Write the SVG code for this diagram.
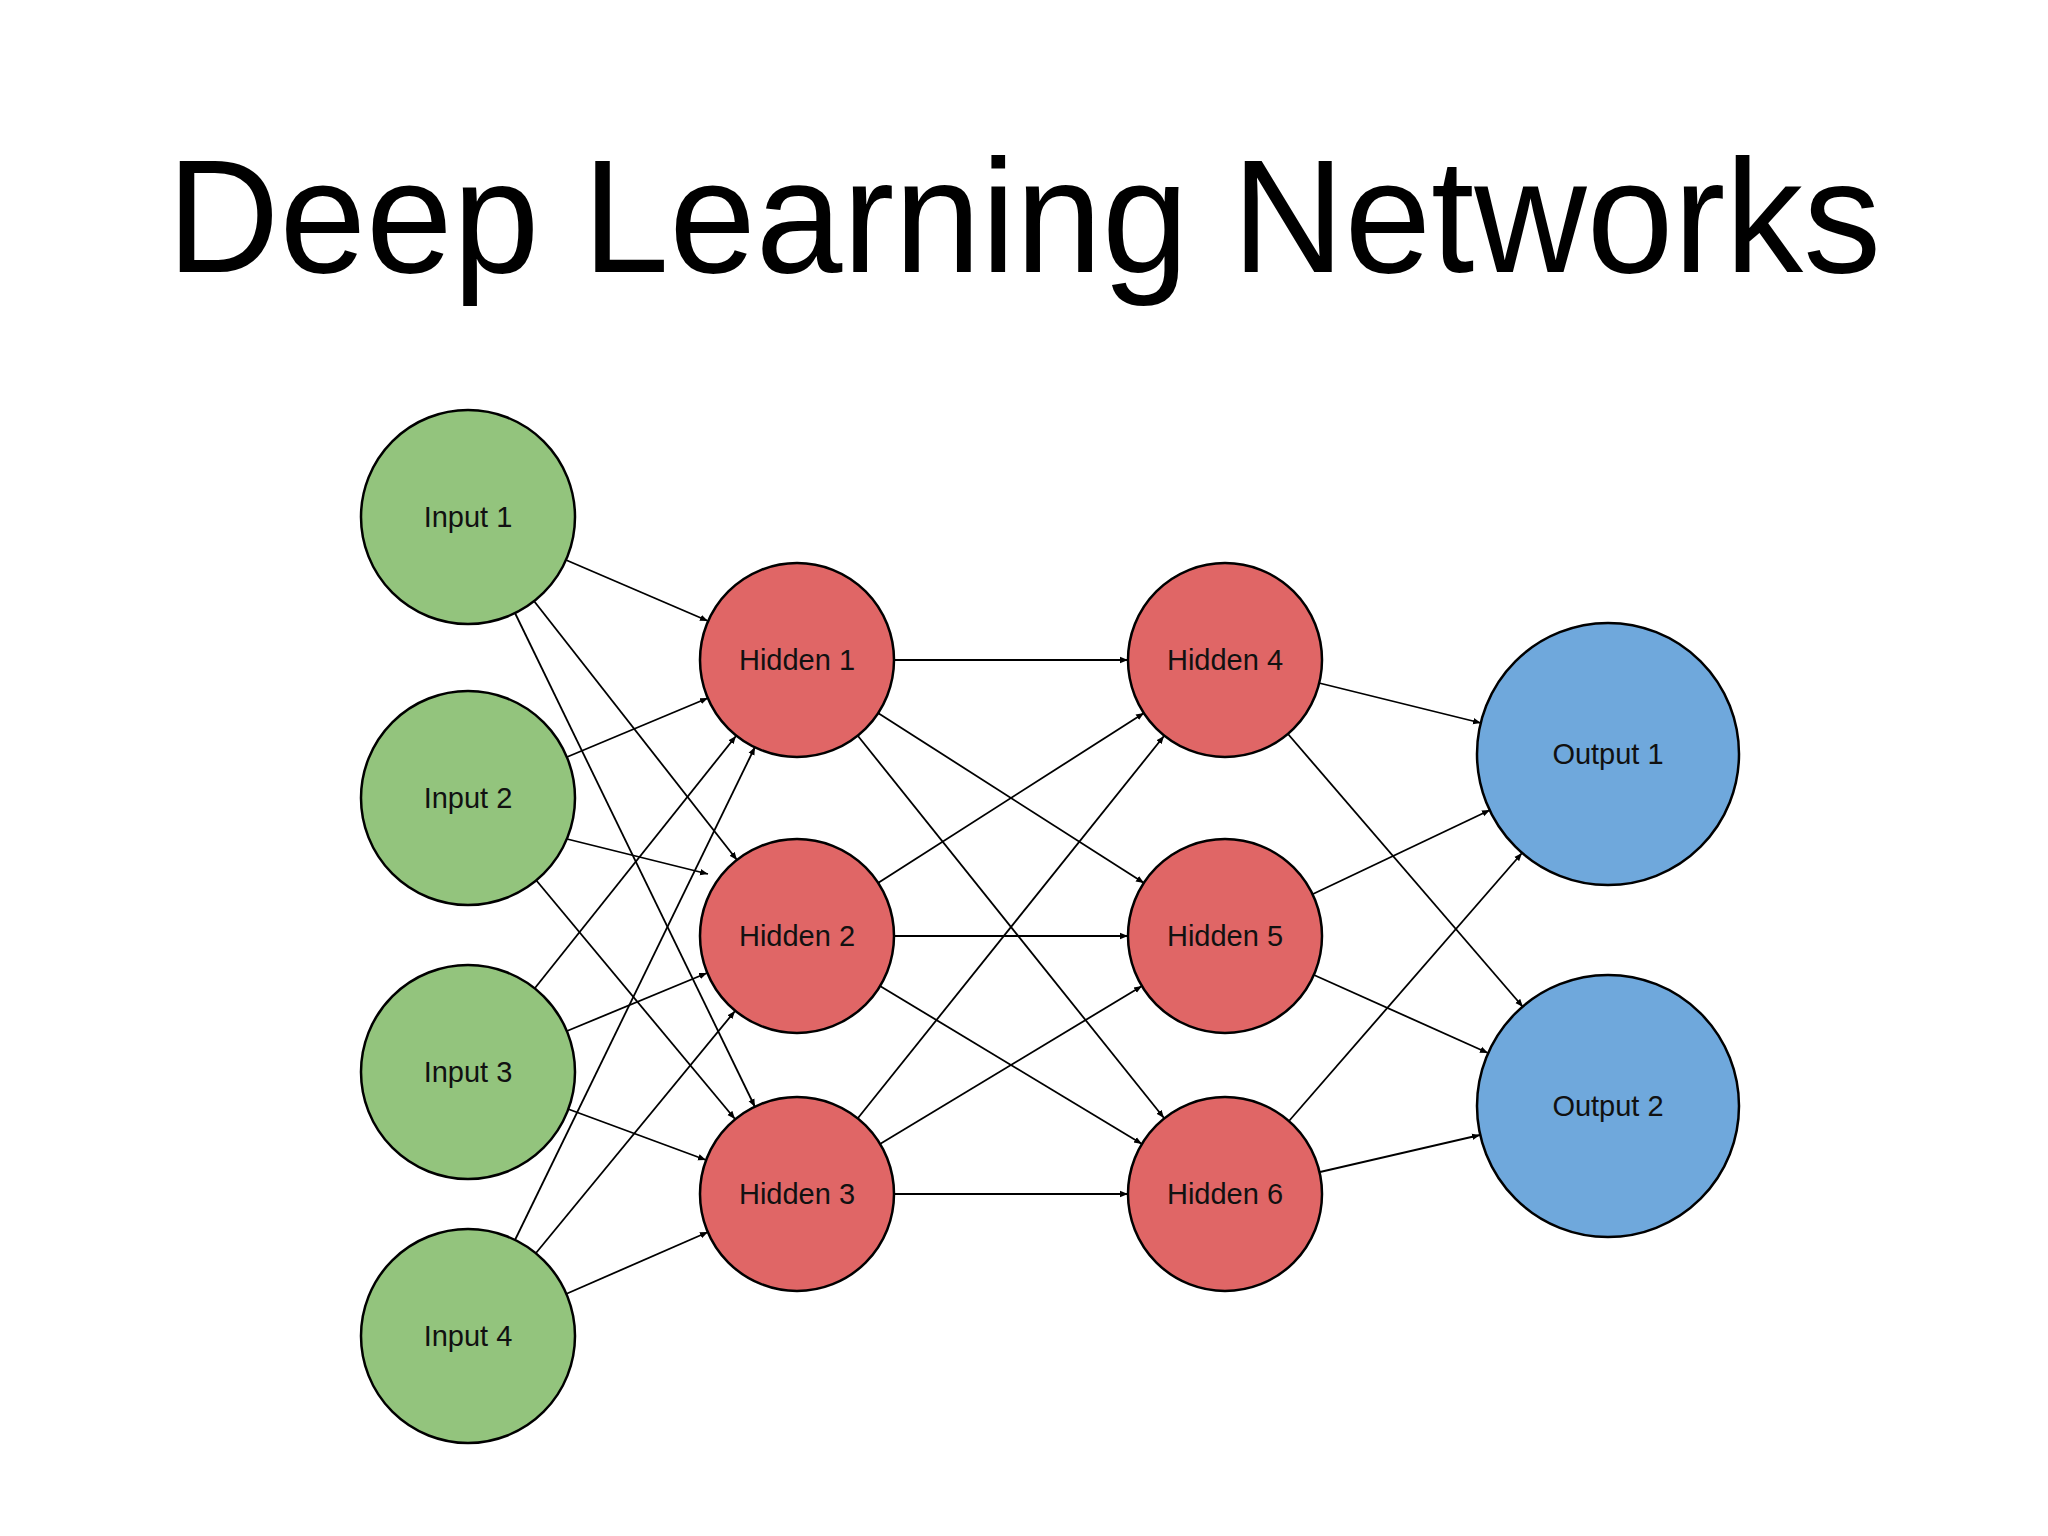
<svg xmlns="http://www.w3.org/2000/svg" width="2048" height="1536" viewBox="0 0 2048 1536">
<defs>
<marker id="ah" viewBox="0 0 10 10" refX="10" refY="5" markerWidth="8" markerHeight="8" orient="auto" markerUnits="userSpaceOnUse">
<path d="M0,1 L10,5 L0,9 z" fill="#000"/>
</marker>
</defs>
<style>
.in{fill:#93c47d;stroke:#000;stroke-width:2.5}
.hd{fill:#e06666;stroke:#000;stroke-width:2.5}
.out{fill:#6fa8dc;stroke:#000;stroke-width:2.5}
.lb{font-family:"Liberation Sans",Arial,sans-serif;font-size:29px;fill:#111;text-anchor:middle;dominant-baseline:central}
#edges line{stroke:#000;stroke-width:1.8;marker-end:url(#ah)}
</style>
<rect width="2048" height="1536" fill="#fff"/>
<text x="1024" y="272" font-family="Liberation Sans,Arial,sans-serif" font-size="162" text-anchor="middle" textLength="1714" lengthAdjust="spacingAndGlyphs" fill="#000">Deep Learning Networks</text>
<g id="edges">
<line x1="566" y1="560" x2="708" y2="621"/>
<line x1="534" y1="601" x2="737" y2="860"/>
<line x1="515" y1="613" x2="755" y2="1107"/>
<line x1="567" y1="757" x2="708" y2="698"/>
<line x1="567" y1="839" x2="708" y2="874"/>
<line x1="536" y1="880" x2="735" y2="1119"/>
<line x1="535" y1="988" x2="736" y2="736"/>
<line x1="567" y1="1031" x2="707" y2="973"/>
<line x1="568" y1="1109" x2="706" y2="1160"/>
<line x1="515" y1="1240" x2="755" y2="747"/>
<line x1="536" y1="1253" x2="735" y2="1011"/>
<line x1="566" y1="1294" x2="708" y2="1232"/>
<line x1="894" y1="660" x2="1128" y2="660"/>
<line x1="894" y1="936" x2="1128" y2="936"/>
<line x1="894" y1="1194" x2="1128" y2="1194"/>
<line x1="878" y1="713" x2="1144" y2="883"/>
<line x1="858" y1="736" x2="1164" y2="1118"/>
<line x1="878" y1="883" x2="1144" y2="713"/>
<line x1="880" y1="986" x2="1142" y2="1144"/>
<line x1="858" y1="1118" x2="1164" y2="736"/>
<line x1="880" y1="1144" x2="1142" y2="986"/>
<line x1="1319" y1="683" x2="1481" y2="723"/>
<line x1="1288" y1="734" x2="1523" y2="1007"/>
<line x1="1313" y1="894" x2="1490" y2="810"/>
<line x1="1314" y1="975" x2="1488" y2="1053"/>
<line x1="1289" y1="1121" x2="1522" y2="853"/>
<line x1="1320" y1="1172" x2="1480" y2="1135"/>
</g>
<g id="input1"><circle class="in" cx="468" cy="517" r="107"/><text class="lb" x="468" y="517">Input 1</text></g>
<g id="input2"><circle class="in" cx="468" cy="798" r="107"/><text class="lb" x="468" y="798">Input 2</text></g>
<g id="input3"><circle class="in" cx="468" cy="1072" r="107"/><text class="lb" x="468" y="1072">Input 3</text></g>
<g id="input4"><circle class="in" cx="468" cy="1336" r="107"/><text class="lb" x="468" y="1336">Input 4</text></g>
<g id="hidden1"><circle class="hd" cx="797" cy="660" r="97"/><text class="lb" x="797" y="660">Hidden 1</text></g>
<g id="hidden2"><circle class="hd" cx="797" cy="936" r="97"/><text class="lb" x="797" y="936">Hidden 2</text></g>
<g id="hidden3"><circle class="hd" cx="797" cy="1194" r="97"/><text class="lb" x="797" y="1194">Hidden 3</text></g>
<g id="hidden4"><circle class="hd" cx="1225" cy="660" r="97"/><text class="lb" x="1225" y="660">Hidden 4</text></g>
<g id="hidden5"><circle class="hd" cx="1225" cy="936" r="97"/><text class="lb" x="1225" y="936">Hidden 5</text></g>
<g id="hidden6"><circle class="hd" cx="1225" cy="1194" r="97"/><text class="lb" x="1225" y="1194">Hidden 6</text></g>
<g id="output1"><circle class="out" cx="1608" cy="754" r="131"/><text class="lb" x="1608" y="754">Output 1</text></g>
<g id="output2"><circle class="out" cx="1608" cy="1106" r="131"/><text class="lb" x="1608" y="1106">Output 2</text></g>
</svg>
